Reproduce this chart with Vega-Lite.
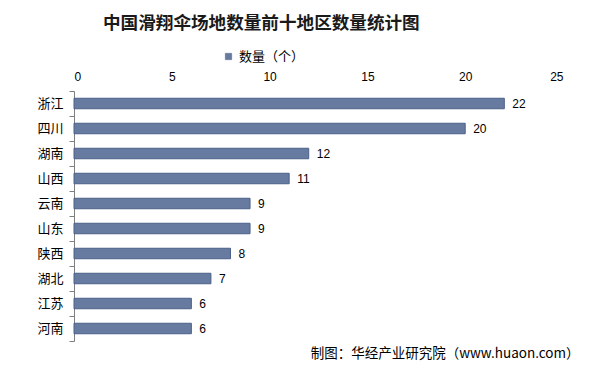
{
  "$schema": "https://vega.github.io/schema/vega-lite/v6.json",
  "width": 489,
  "height": 250,
  "autosize": {"type": "none"},
  "padding": {"left": 74, "top": 91, "right": 29, "bottom": 31},
  "background": "white",
  "title": {
    "text": "中国滑翔伞场地数量前十地区数量统计图",
    "font": "Noto Sans CJK SC",
    "fontSize": 17.6,
    "fontWeight": "bold",
    "color": "#1a1a1a",
    "anchor": "start",
    "frame": "group",
    "dx": 29,
    "offset": 17
  },
  "data": {
    "values": [
      {"region": "浙江", "count": 22},
      {"region": "四川", "count": 20},
      {"region": "湖南", "count": 12},
      {"region": "山西", "count": 11},
      {"region": "云南", "count": 9},
      {"region": "山东", "count": 9},
      {"region": "陕西", "count": 8},
      {"region": "湖北", "count": 7},
      {"region": "江苏", "count": 6},
      {"region": "河南", "count": 6}
    ]
  },
  "layer": [
    {
      "mark": {"type": "bar", "height": {"band": 0.42}, "stroke": "#4b6089", "strokeWidth": 1},
      "encoding": {
        "y": {
          "field": "region", "type": "nominal", "sort": null,
          "scale": {"paddingInner": 0, "paddingOuter": 0},
          "axis": {
            "title": null, "tickBand": "extent", "tickSize": 5, "tickColor": "#7f7f7f",
            "domainColor": "#7f7f7f", "labelPadding": 6, "labelFontSize": 13,
            "labelFont": "Noto Sans CJK SC", "labelColor": "#000", "grid": false
          }
        },
        "x": {
          "field": "count", "type": "quantitative",
          "scale": {"domain": [0, 25], "nice": false, "zero": true},
          "axis": {
            "orient": "top", "values": [0, 5, 10, 15, 20, 25], "grid": false, "domain": false,
            "ticks": false, "title": null, "labelFontSize": 12, "labelPadding": 8,
            "labelColor": "#000", "labelFont": "Liberation Sans"
          }
        },
        "color": {
          "datum": "数量（个）",
          "scale": {"range": ["#677a9f"]},
          "legend": {
            "orient": "none", "legendX": 148, "legendY": -41, "direction": "horizontal",
            "title": null, "symbolType": "square", "symbolSize": 40,
            "symbolStrokeColor": "#4b6089", "symbolStrokeWidth": 0.5,
            "labelFontSize": 13, "labelFont": "Noto Sans CJK SC", "labelColor": "#000"
          }
        }
      }
    },
    {
      "mark": {"type": "text", "align": "left", "dx": 8, "fontSize": 12, "font": "Liberation Sans", "color": "#000"},
      "encoding": {
        "y": {"field": "region", "type": "nominal", "sort": null},
        "x": {
          "field": "count", "type": "quantitative",
          "axis": {
            "orient": "bottom", "labels": false, "ticks": false, "domain": false, "grid": false,
            "title": "制图：华经产业研究院（www.huaon.com）",
            "titleFont": "Noto Sans CJK SC", "titleFontSize": 13.5, "titleFontWeight": "normal",
            "titleColor": "#000", "titleAnchor": "end", "titleAlign": "right",
            "titleX": 505, "titleY": 12, "titleBaseline": "middle"
          }
        },
        "text": {"field": "count"}
      }
    }
  ],
  "resolve": {"axis": {"x": "independent"}},
  "config": {"view": {"stroke": null}}
}
